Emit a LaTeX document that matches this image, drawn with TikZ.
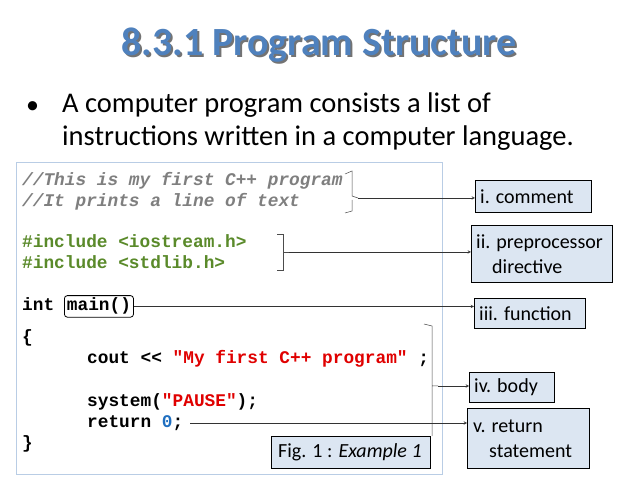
\documentclass[tikz,border=0pt]{standalone}
\usepackage{fontspec}
\setmainfont{Carlito}
\setmonofont{Liberation Mono}
\begin{document}
\begin{tikzpicture}[x=1pt,y=-1pt,
  lbl/.style={draw=black,line width=1.2pt,fill=lblfill,inner sep=0pt,anchor=north west},
  ltx/.style={anchor=west,inner sep=0pt,align=left,font=\fontsize{20}{25}\selectfont},
  code/.style={anchor=base west,inner sep=0pt,font=\ttfamily\bfseries\fontsize{17.8}{20}\selectfont},
  arr/.style={->,>=stealth,line width=0.5pt,draw=black!80}]
\definecolor{lblfill}{HTML}{DCE6F2}
\definecolor{ttl}{HTML}{4F81BD}
\definecolor{cmt}{HTML}{7F7F7F}
\definecolor{inc}{HTML}{5A8A2A}
\definecolor{str}{HTML}{E00000}
\definecolor{num}{HTML}{1F6FC0}
\useasboundingbox (0,0) rectangle (638,478);
\fill[white] (0,0) rectangle (638,478);
\node (title)[font=\bfseries\fontsize{40}{44}\selectfont,text=ttl] at (319,46) {\rlap{\kern2pt\raisebox{-2pt}{\textcolor{black!55}{8.3.1 Program Structure}}}8.3.1 Program Structure};
\node (bul)[anchor=base west,inner sep=0pt,font=\fontsize{26}{27}\selectfont] at (26,114) {•};
\node (btxt)[anchor=north west,inner sep=0pt,align=left,font=\fontsize{28.5}{33}\selectfont] at (62,93) {A computer program consists a list of\\instructions written in a computer language.};
\draw[draw=ttl!40,line width=1pt] (16,163) rectangle (442,475);
\node (c1)[code,text=cmt] at (22,186) {\itshape //This is my first C++ program};
\node (c2)[code,text=cmt] at (22,207) {\itshape //It prints a line of text};
\node (i1)[code,text=inc] at (22,248) {\#include <iostream.h>};
\node (i2)[code,text=inc] at (22,269) {\#include <stdlib.h>};
\node (int)[code] at (22,311) {int};
\node (main)[code,draw,rounded corners=3pt,line width=0.8pt,inner sep=2.5pt] at (64,311) {main()};
\node (ob)[code] at (22,343) {\{};
\node (cout)[code] at (87,364) {cout << \textcolor{str}{"My first C++ program"} ;};
\node (sys)[code] at (87,407) {system(\textcolor{str}{"PAUSE"});};
\node (ret)[code] at (87,428) {return \textcolor{num}{0};};
\node (cb)[code] at (22,449) {\}};
% labels
\node (l1)[lbl,minimum width=116pt,minimum height=32pt] at (475,180) {};
\node (t1)[ltx] at ([xshift=5pt]l1.west) {i. comment};
\node (l2)[lbl,minimum width=141pt,minimum height=57pt] at (471,225) {};
\node (t2)[ltx] at ([xshift=5pt]l2.west) {ii. preprocessor\\\hspace{0.8em}directive};
\node (l3)[lbl,minimum width=111pt,minimum height=30pt] at (474,298) {};
\node (t3)[ltx] at ([xshift=5pt]l3.west) {iii. function};
\node (l4)[lbl,minimum width=85pt,minimum height=30pt] at (469,372) {};
\node (t4)[ltx] at ([xshift=5pt]l4.west) {iv. body};
\node (l5)[lbl,minimum width=122pt,minimum height=60pt] at (467,408) {};
\node (t5)[ltx] at ([xshift=6pt]l5.west) {v. return\\\hspace{0.8em}statement};
\node (fig)[lbl,minimum width=159pt,minimum height=32pt] at (271,436) {};
\node (tf)[ltx] at ([xshift=7pt]fig.west) {Fig. 1 : \textit{Example 1}};
% brackets
\coordinate (b1) at (358,198);
\draw[line width=0.5pt,draw=black!70] (345,174) -- (352,171) -- (352,196) -- (b1) (352,200) -- (352,211) -- (345,213);
\draw[arr] (b1) -- (l1.west |- b1);
\coordinate (b2) at (289,252);
\draw[line width=0.5pt,draw=black!70] (277,234) -- (283,234) -- (283,270) -- (277,270) (283,252) -- (b2);
\draw[arr] (b2) -- (l2.west |- b2);
\draw[arr] (main.east) -- (l3.west |- main.east);
\coordinate (b4) at (438,386);
\draw[line width=0.5pt,draw=black!70] (424,324) -- (432,326) -- (432,436) (432,386) -- (b4);
\draw[arr] (b4) -- (l4.west |- b4);
\coordinate (r0) at (190,423);
\draw[arr] (r0) -- (l5.west |- r0);
\end{tikzpicture}
\end{document}
